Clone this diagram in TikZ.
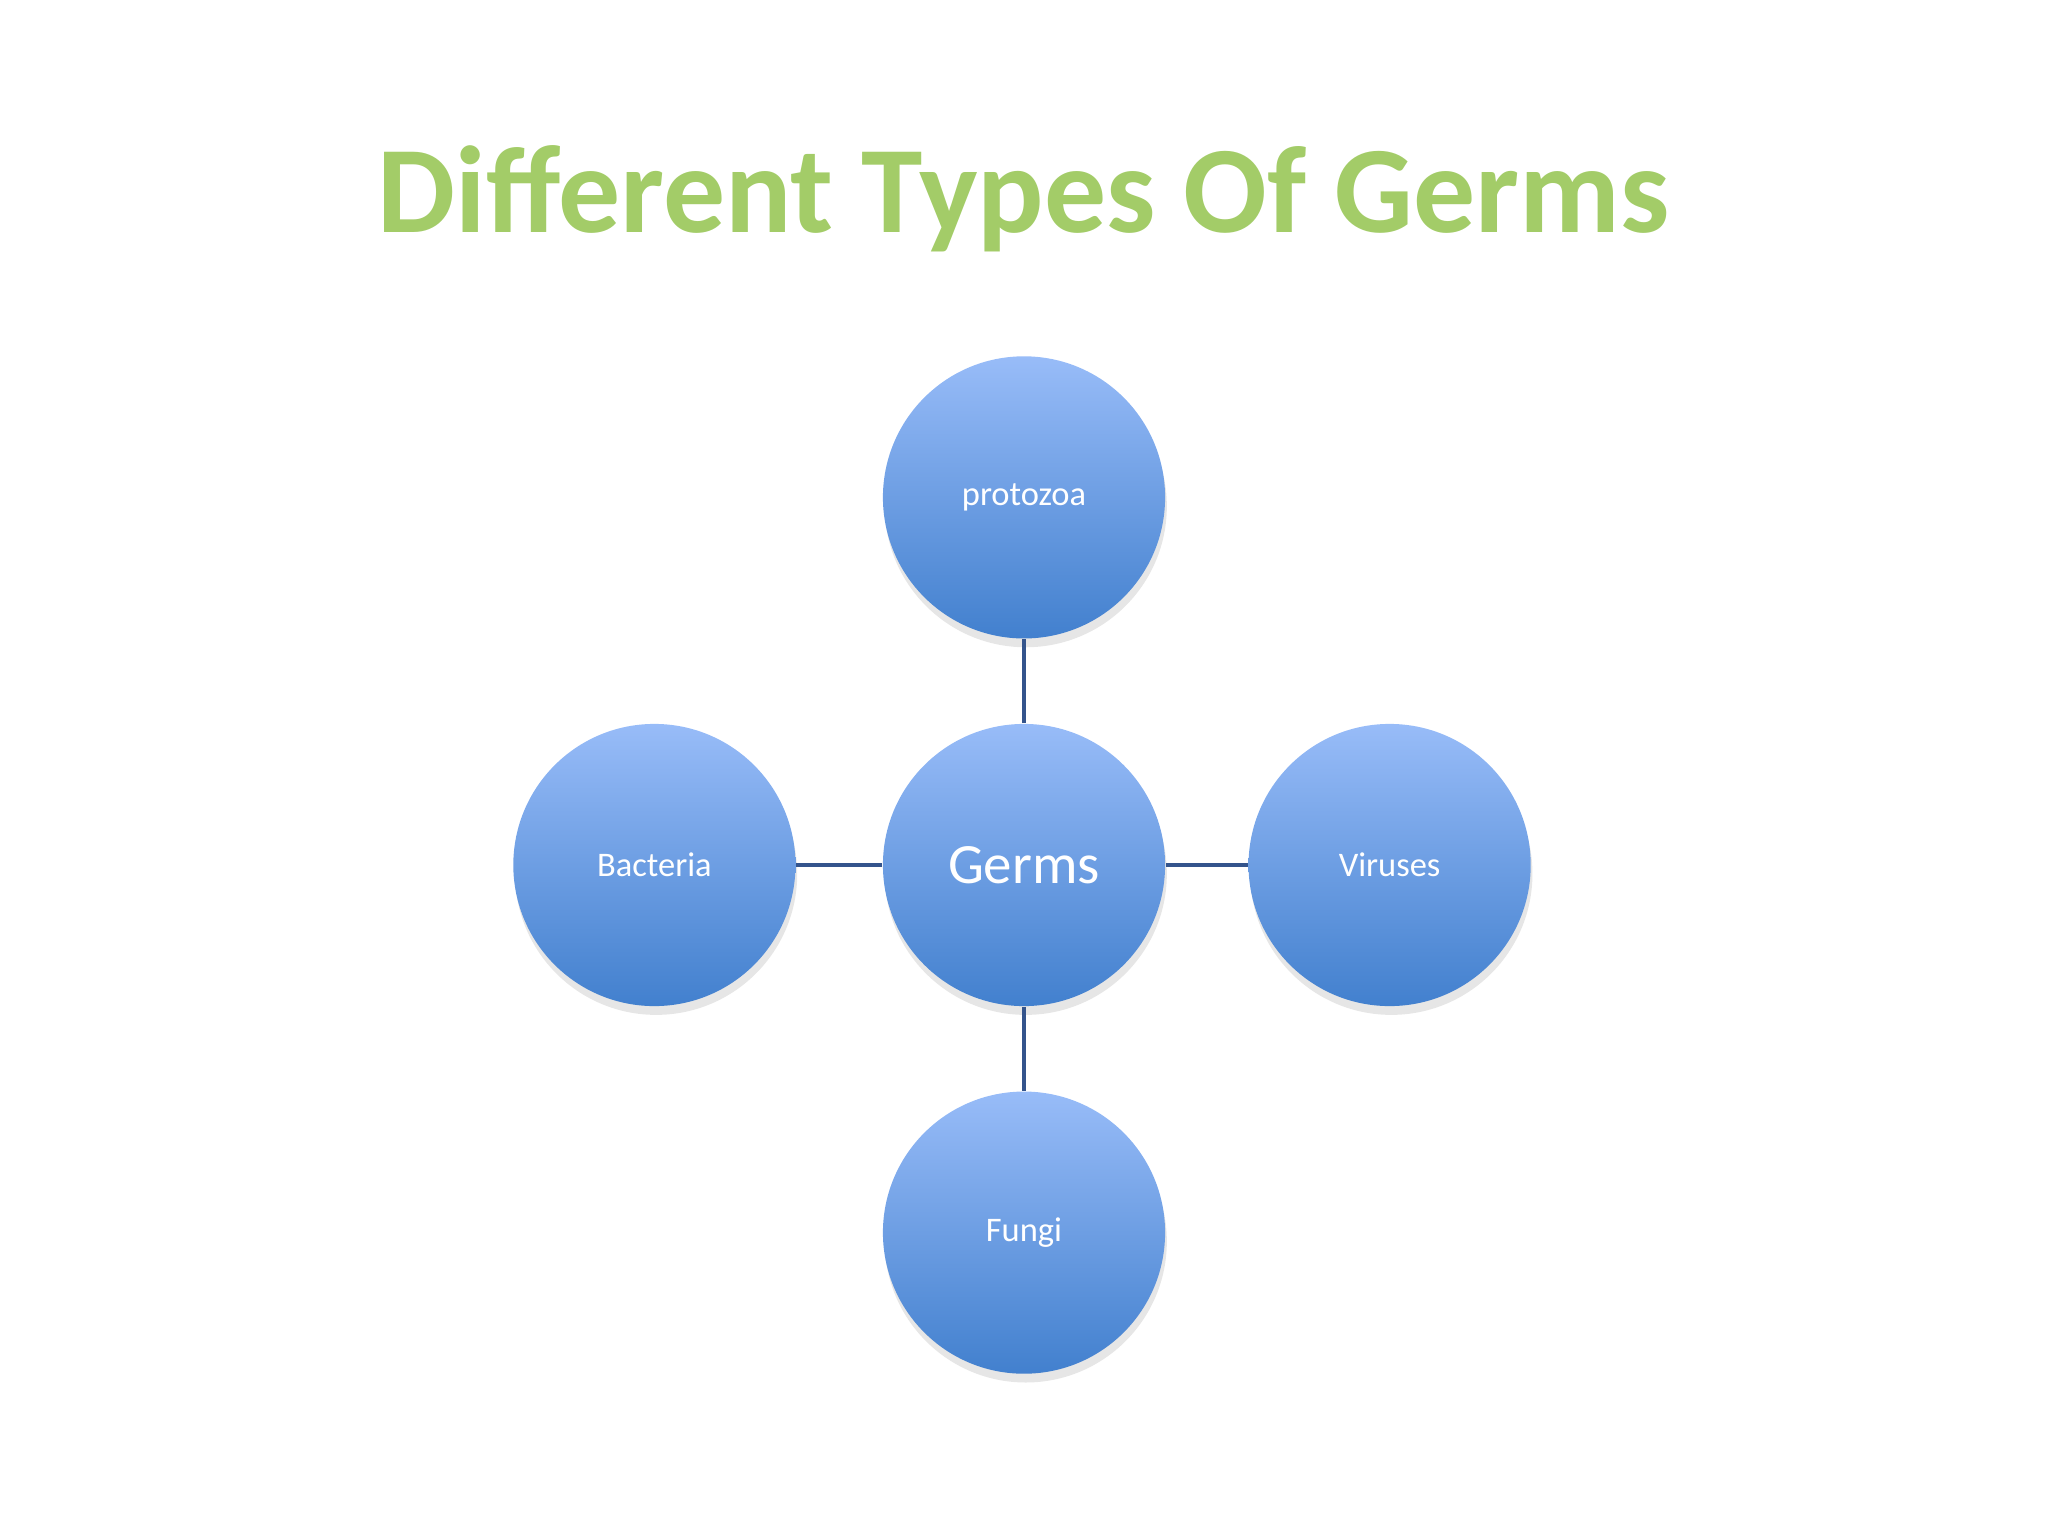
\documentclass[tikz,border=0pt]{standalone}
\usepackage{fontspec}
\setmainfont{Carlito}
\usetikzlibrary{positioning,shadows}
\definecolor{GermTop}{RGB}{152,188,248}
\definecolor{GermBottom}{RGB}{66,128,206}
\definecolor{LinkBlue}{RGB}{52,84,140}
\definecolor{TitleGreen}{RGB}{163,204,104}

\begin{document}
\begin{tikzpicture}[x=0.01cm, y=-0.01cm, node distance=0.84cm,
  germ/.style={circle, minimum size=2.82cm, inner sep=0pt, top color=GermTop, bottom color=GermBottom,
    text=white, font=\fontsize{9.8}{11}\selectfont,
    drop shadow={opacity=0.2, shadow xshift=0.5pt, shadow yshift=-2.5pt}},
  link/.style={draw=LinkBlue, line width=0.9pt}]
  \useasboundingbox (0,0) rectangle (2048,1536);
  \node[font=\bfseries\fontsize{35.2}{40}\selectfont, text=TitleGreen] (title) at (1024,199) {Different Types Of Germs};
  \node[germ, font=\fontsize{16.2}{18}\selectfont] (germs) at (1024,865) {Germs};
  \node[germ, above=of germs] (protozoa) {protozoa};
  \node[germ, left=0.86cm of germs] (bacteria) {Bacteria};
  \node[germ, right=0.82cm of germs] (viruses) {Viruses};
  \node[germ, below=of germs] (fungi) {Fungi};
  \draw[link] (germs) -- (protozoa);
  \draw[link] (germs) -- (bacteria);
  \draw[link] (germs) -- (viruses);
  \draw[link] (germs) -- (fungi);
\end{tikzpicture}
\end{document}
